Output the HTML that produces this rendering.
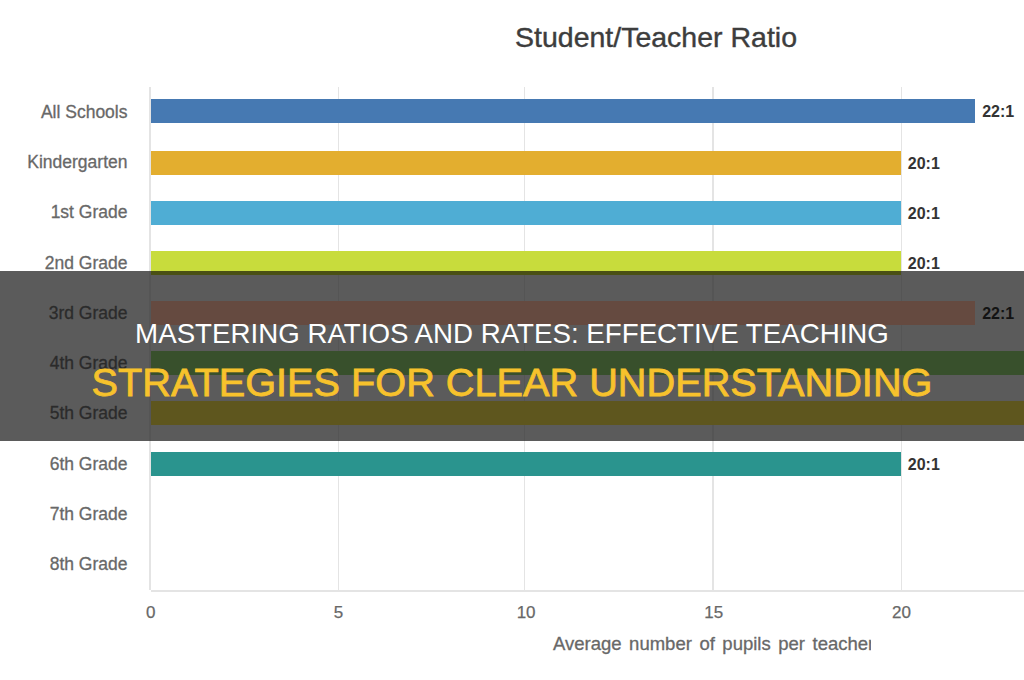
<!DOCTYPE html>
<html><head><meta charset="utf-8"><style>
html,body{margin:0;padding:0;}
body{width:1024px;height:680px;position:relative;overflow:hidden;background:#fff;font-family:"Liberation Sans", sans-serif;}
</style></head><body>
<div style="position:absolute;left:515.00px;top:23.47px;font-size:28.5px;line-height:28.5px;color:#3d3d3d;font-weight:400;white-space:nowrap;-webkit-text-stroke:0.4px #3d3d3d;">Student/Teacher Ratio</div>
<div style="position:absolute;left:149.30px;top:87px;width:1.6px;height:502.5px;background:#e4e4e4"></div>
<div style="position:absolute;left:337.50px;top:87px;width:1.6px;height:502.5px;background:#e4e4e4"></div>
<div style="position:absolute;left:523.90px;top:87px;width:1.6px;height:502.5px;background:#e4e4e4"></div>
<div style="position:absolute;left:712.30px;top:87px;width:1.6px;height:502.5px;background:#e4e4e4"></div>
<div style="position:absolute;left:900.60px;top:87px;width:1.6px;height:502.5px;background:#e4e4e4"></div>
<div style="position:absolute;right:896.50px;top:103.89px;font-size:17.5px;line-height:17.5px;color:#686868;font-weight:400;white-space:nowrap;-webkit-text-stroke:0.3px #686868;">All Schools</div>
<div style="position:absolute;right:896.50px;top:154.14px;font-size:17.5px;line-height:17.5px;color:#686868;font-weight:400;white-space:nowrap;-webkit-text-stroke:0.3px #686868;">Kindergarten</div>
<div style="position:absolute;right:896.50px;top:204.39px;font-size:17.5px;line-height:17.5px;color:#686868;font-weight:400;white-space:nowrap;-webkit-text-stroke:0.3px #686868;">1st Grade</div>
<div style="position:absolute;right:896.50px;top:254.64px;font-size:17.5px;line-height:17.5px;color:#686868;font-weight:400;white-space:nowrap;-webkit-text-stroke:0.3px #686868;">2nd Grade</div>
<div style="position:absolute;right:896.50px;top:304.89px;font-size:17.5px;line-height:17.5px;color:#686868;font-weight:400;white-space:nowrap;-webkit-text-stroke:0.3px #686868;">3rd Grade</div>
<div style="position:absolute;right:896.50px;top:355.14px;font-size:17.5px;line-height:17.5px;color:#686868;font-weight:400;white-space:nowrap;-webkit-text-stroke:0.3px #686868;">4th Grade</div>
<div style="position:absolute;right:896.50px;top:405.39px;font-size:17.5px;line-height:17.5px;color:#686868;font-weight:400;white-space:nowrap;-webkit-text-stroke:0.3px #686868;">5th Grade</div>
<div style="position:absolute;right:896.50px;top:455.64px;font-size:17.5px;line-height:17.5px;color:#686868;font-weight:400;white-space:nowrap;-webkit-text-stroke:0.3px #686868;">6th Grade</div>
<div style="position:absolute;right:896.50px;top:505.89px;font-size:17.5px;line-height:17.5px;color:#686868;font-weight:400;white-space:nowrap;-webkit-text-stroke:0.3px #686868;">7th Grade</div>
<div style="position:absolute;right:896.50px;top:556.14px;font-size:17.5px;line-height:17.5px;color:#686868;font-weight:400;white-space:nowrap;-webkit-text-stroke:0.3px #686868;">8th Grade</div>
<div style="position:absolute;left:151px;top:99px;width:824.20px;height:24px;background:#4679b2"></div>
<div style="position:absolute;left:982.20px;top:104.26px;font-size:16px;line-height:16px;color:#333;font-weight:700;white-space:nowrap;">22:1</div>
<div style="position:absolute;left:151px;top:151px;width:749.80px;height:24px;background:#e3ae2f"></div>
<div style="position:absolute;left:907.80px;top:156.26px;font-size:16px;line-height:16px;color:#333;font-weight:700;white-space:nowrap;">20:1</div>
<div style="position:absolute;left:151px;top:201px;width:749.80px;height:24px;background:#4fadd4"></div>
<div style="position:absolute;left:907.80px;top:206.26px;font-size:16px;line-height:16px;color:#333;font-weight:700;white-space:nowrap;">20:1</div>
<div style="position:absolute;left:151px;top:250.7px;width:749.80px;height:24px;background:#c8dc3c"></div>
<div style="position:absolute;left:907.80px;top:255.96px;font-size:16px;line-height:16px;color:#333;font-weight:700;white-space:nowrap;">20:1</div>
<div style="position:absolute;left:151px;top:301.0px;width:824.20px;height:24px;background:#654a40"></div>
<div style="position:absolute;left:982.20px;top:306.26px;font-size:16px;line-height:16px;color:#333;font-weight:700;white-space:nowrap;">22:1</div>
<div style="position:absolute;left:151px;top:351.3px;width:873.00px;height:24px;background:#38502c"></div>
<div style="position:absolute;left:151px;top:401.0px;width:873.00px;height:24px;background:#5e561e"></div>
<div style="position:absolute;left:151px;top:451.7px;width:749.80px;height:24px;background:#2a948e"></div>
<div style="position:absolute;left:907.80px;top:456.96px;font-size:16px;line-height:16px;color:#333;font-weight:700;white-space:nowrap;">20:1</div>
<div style="position:absolute;left:151px;top:589.5px;width:873px;height:2px;background:#e4e4e4"></div>
<div style="position:absolute;left:-149.40px;width:600px;text-align:center;top:604.21px;font-size:17px;line-height:17px;color:#686868;font-weight:400;white-space:nowrap;-webkit-text-stroke:0.25px #686868;">0</div>
<div style="position:absolute;left:38.50px;width:600px;text-align:center;top:604.21px;font-size:17px;line-height:17px;color:#686868;font-weight:400;white-space:nowrap;-webkit-text-stroke:0.25px #686868;">5</div>
<div style="position:absolute;left:226.10px;width:600px;text-align:center;top:604.21px;font-size:17px;line-height:17px;color:#686868;font-weight:400;white-space:nowrap;-webkit-text-stroke:0.25px #686868;">10</div>
<div style="position:absolute;left:413.70px;width:600px;text-align:center;top:604.21px;font-size:17px;line-height:17px;color:#686868;font-weight:400;white-space:nowrap;-webkit-text-stroke:0.25px #686868;">15</div>
<div style="position:absolute;left:601.40px;width:600px;text-align:center;top:604.21px;font-size:17px;line-height:17px;color:#686868;font-weight:400;white-space:nowrap;-webkit-text-stroke:0.25px #686868;">20</div>
<div style="position:absolute;left:0;top:0;width:871px;height:680px;overflow:hidden"><div style="position:absolute;left:553.00px;top:634.94px;font-size:18.5px;line-height:18.5px;color:#686868;font-weight:400;white-space:nowrap;word-spacing:2.4px;-webkit-text-stroke:0.3px #686868;">Average number of pupils per teacher</div></div>
<div style="position:absolute;left:0;top:271px;width:1024px;height:170px;background:#5b5b5b;overflow:hidden"><div style="position:absolute;left:0;top:-271px;width:1024px;height:680px"><div style="position:absolute;left:149.30px;top:87px;width:1.6px;height:502.5px;background:#555555"></div><div style="position:absolute;left:337.50px;top:87px;width:1.6px;height:502.5px;background:#555555"></div><div style="position:absolute;left:523.90px;top:87px;width:1.6px;height:502.5px;background:#555555"></div><div style="position:absolute;left:712.30px;top:87px;width:1.6px;height:502.5px;background:#555555"></div><div style="position:absolute;left:900.60px;top:87px;width:1.6px;height:502.5px;background:#555555"></div><div style="position:absolute;right:896.50px;top:103.89px;font-size:17.5px;line-height:17.5px;color:#2b2b2b;font-weight:400;white-space:nowrap;-webkit-text-stroke:0.3px #2b2b2b;">All Schools</div><div style="position:absolute;right:896.50px;top:154.14px;font-size:17.5px;line-height:17.5px;color:#2b2b2b;font-weight:400;white-space:nowrap;-webkit-text-stroke:0.3px #2b2b2b;">Kindergarten</div><div style="position:absolute;right:896.50px;top:204.39px;font-size:17.5px;line-height:17.5px;color:#2b2b2b;font-weight:400;white-space:nowrap;-webkit-text-stroke:0.3px #2b2b2b;">1st Grade</div><div style="position:absolute;right:896.50px;top:254.64px;font-size:17.5px;line-height:17.5px;color:#2b2b2b;font-weight:400;white-space:nowrap;-webkit-text-stroke:0.3px #2b2b2b;">2nd Grade</div><div style="position:absolute;right:896.50px;top:304.89px;font-size:17.5px;line-height:17.5px;color:#2b2b2b;font-weight:400;white-space:nowrap;-webkit-text-stroke:0.3px #2b2b2b;">3rd Grade</div><div style="position:absolute;right:896.50px;top:355.14px;font-size:17.5px;line-height:17.5px;color:#2b2b2b;font-weight:400;white-space:nowrap;-webkit-text-stroke:0.3px #2b2b2b;">4th Grade</div><div style="position:absolute;right:896.50px;top:405.39px;font-size:17.5px;line-height:17.5px;color:#2b2b2b;font-weight:400;white-space:nowrap;-webkit-text-stroke:0.3px #2b2b2b;">5th Grade</div><div style="position:absolute;right:896.50px;top:455.64px;font-size:17.5px;line-height:17.5px;color:#2b2b2b;font-weight:400;white-space:nowrap;-webkit-text-stroke:0.3px #2b2b2b;">6th Grade</div><div style="position:absolute;right:896.50px;top:505.89px;font-size:17.5px;line-height:17.5px;color:#2b2b2b;font-weight:400;white-space:nowrap;-webkit-text-stroke:0.3px #2b2b2b;">7th Grade</div><div style="position:absolute;right:896.50px;top:556.14px;font-size:17.5px;line-height:17.5px;color:#2b2b2b;font-weight:400;white-space:nowrap;-webkit-text-stroke:0.3px #2b2b2b;">8th Grade</div><div style="position:absolute;left:151px;top:99px;width:824.20px;height:24px;background:#4679b2"></div><div style="position:absolute;left:982.20px;top:104.26px;font-size:16px;line-height:16px;color:#131313;font-weight:700;white-space:nowrap;">22:1</div><div style="position:absolute;left:151px;top:151px;width:749.80px;height:24px;background:#e3ae2f"></div><div style="position:absolute;left:907.80px;top:156.26px;font-size:16px;line-height:16px;color:#131313;font-weight:700;white-space:nowrap;">20:1</div><div style="position:absolute;left:151px;top:201px;width:749.80px;height:24px;background:#4fadd4"></div><div style="position:absolute;left:907.80px;top:206.26px;font-size:16px;line-height:16px;color:#131313;font-weight:700;white-space:nowrap;">20:1</div><div style="position:absolute;left:151px;top:250.7px;width:749.80px;height:24px;background:#4a5014"></div><div style="position:absolute;left:907.80px;top:255.96px;font-size:16px;line-height:16px;color:#131313;font-weight:700;white-space:nowrap;">20:1</div><div style="position:absolute;left:151px;top:301.0px;width:824.20px;height:24px;background:#654a40"></div><div style="position:absolute;left:982.20px;top:306.26px;font-size:16px;line-height:16px;color:#131313;font-weight:700;white-space:nowrap;">22:1</div><div style="position:absolute;left:151px;top:351.3px;width:873.00px;height:24px;background:#38502c"></div><div style="position:absolute;left:151px;top:401.0px;width:873.00px;height:24px;background:#5e561e"></div><div style="position:absolute;left:151px;top:451.7px;width:749.80px;height:24px;background:#2a948e"></div><div style="position:absolute;left:907.80px;top:456.96px;font-size:16px;line-height:16px;color:#131313;font-weight:700;white-space:nowrap;">20:1</div></div></div>
<div style="position:absolute;left:211.70px;width:600px;text-align:center;top:319.85px;font-size:27.7px;line-height:27.7px;color:#fff;font-weight:400;white-space:nowrap;left:0;width:1024px;">MASTERING RATIOS AND RATES: EFFECTIVE TEACHING</div>
<div style="position:absolute;left:210.80px;width:600px;text-align:center;top:362.59px;font-size:39.7px;line-height:39.7px;color:#f7c22c;font-weight:400;white-space:nowrap;left:0;width:1024px;-webkit-text-stroke:0.8px #f7c22c;">STRATEGIES FOR CLEAR UNDERSTANDING</div>
</body></html>
